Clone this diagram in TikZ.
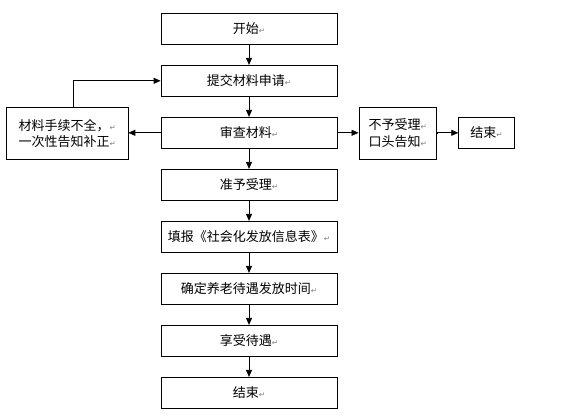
\documentclass[tikz,border=0pt]{standalone}
\usepackage{fontspec}
\setmainfont{Noto Sans CJK SC}
\newfontfamily\symfont{DejaVu Sans}
\usetikzlibrary{arrows.meta}

% paragraph mark as printed after each line
\newcommand\pmark{{\symfont\fontsize{7.5}{7.5}\selectfont\color{gray}↵}}

\begin{document}
\begin{tikzpicture}[x=1pt,y=-1pt,
  box/.style={draw,line width=0.8pt,inner sep=0pt,minimum height=31pt,
    align=center,font=\fontsize{13}{16.5}\selectfont},
  mainbox/.style={box,minimum width=176pt},
  link/.style={line width=0.8pt,-{Triangle[length=7pt,width=6pt]}}]
\useasboundingbox (0,0) rectangle (569,415);

%main column
\node[mainbox] (start)  at (249,28.8)  {开始\pmark};
\node[mainbox] (apply)  at (249,80.8)  {提交材料申请\pmark};
\node[mainbox] (check)  at (249,132.8) {审查材料\pmark};
\node[mainbox] (accept) at (249,184.8) {准予受理\pmark};
\node[mainbox] (form)   at (249,236.8) {填报《社会化发放信息表》\pmark};
\node[mainbox] (date)   at (249,288.8) {确定养老待遇发放时间\pmark};
\node[mainbox] (enjoy)  at (249,340.8) {享受待遇\pmark};
\node[mainbox] (stop)   at (249,392.8) {结束\pmark};

%side branches
\node[box,minimum width=121.3pt,minimum height=52pt] (fix) at (67.3,133.3)
  {材料手续不全，\pmark\\一次性告知补正\pmark};
\node[box,minimum width=77.7pt,minimum height=52pt] (refuse) at (397.8,133.3)
  {不予受理\pmark\\口头告知\pmark};
\node[box,minimum width=55.6pt] (end) at (486.5,132.8) {结束\pmark};

%connectors
\draw[link] (start) -- (apply);
\draw[link] (apply) -- (check);
\draw[link] (check) -- (accept);
\draw[link] (accept) -- (form);
\draw[link] (form) -- (date);
\draw[link] (date) -- (enjoy);
\draw[link] (enjoy) -- (stop);
\draw[link] (check.west) -- (check.west -| fix.east);
\draw[link] ([xshift=5.7pt]fix.north) |- (apply.west);
\draw[link] (check.east) -- (check.east -| refuse.west);
\draw[link] (refuse.east) -- (refuse.east |- end.west) -- (end.west);
\end{tikzpicture}
\end{document}
